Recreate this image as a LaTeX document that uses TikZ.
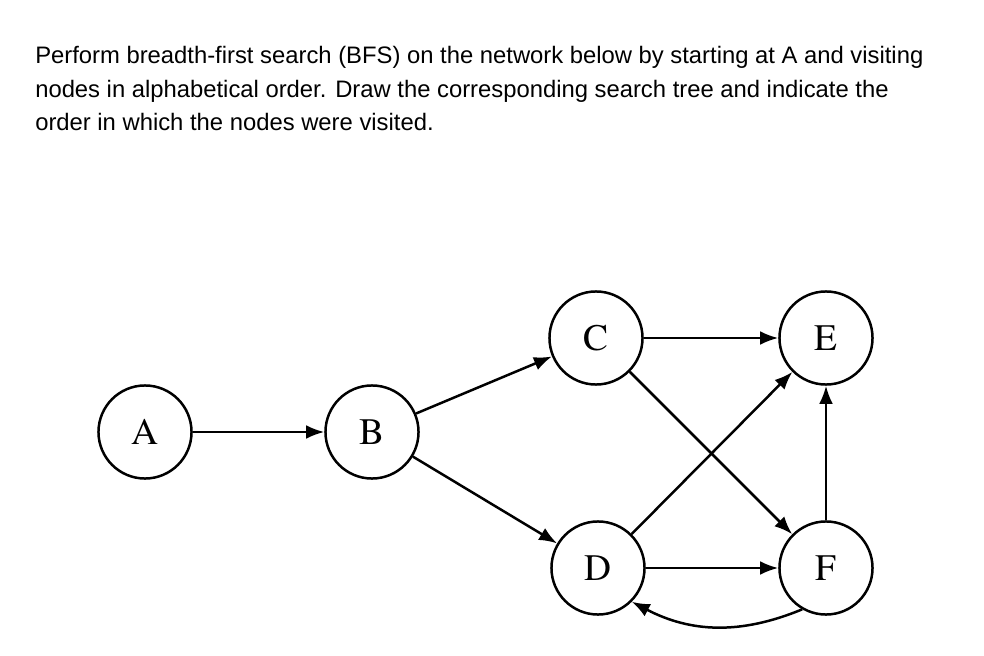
\documentclass[tikz,border=0pt]{standalone}
\usepackage{fontspec}
\setmainfont{TeX Gyre Termes}
\newfontfamily\sansf{Liberation Sans}
\usetikzlibrary{arrows.meta}
\begin{document}
\begin{tikzpicture}[x=0.01in,y=-0.01in,
  vert/.style={circle,draw,line width=1.8pt,minimum size=0.93in,inner sep=0pt,font=\fontsize{27}{27}\selectfont},
  edge/.style={line width=1.8pt,-{Latex[length=13pt,width=10pt]}}]
\useasboundingbox (0,0) rectangle (984,656);
\node[anchor=north west,align=left,font=\sansf\fontsize{17.2}{24.2}\selectfont,inner sep=0pt] (q) at (35,46)
 {Perform breadth-first search (BFS) on the network below by starting at A and visiting\\
 nodes in alphabetical order. Draw the corresponding search tree and indicate the\\
 order in which the nodes were visited.};
\node[vert] (A) at (145,432) {A};
\node[vert] (B) at (372,432) {B};
\node[vert] (C) at (596,338) {C};
\node[vert] (E) at (826,338) {E};
\node[vert] (D) at (598,568) {D};
\node[vert] (F) at (826,568) {F};
\draw[edge] (A) -- (B);
\draw[edge] (B) -- (C);
\draw[edge] (B) -- (D);
\draw[edge] (C) -- (E);
\draw[edge] (C) -- (F);
\draw[edge] (D) -- (E);
\draw[edge] (D) -- (F);
\draw[edge] (F) -- (E);
\draw[edge] (F.-120) to[bend left=25] (D.-45);
\end{tikzpicture}
\end{document}
